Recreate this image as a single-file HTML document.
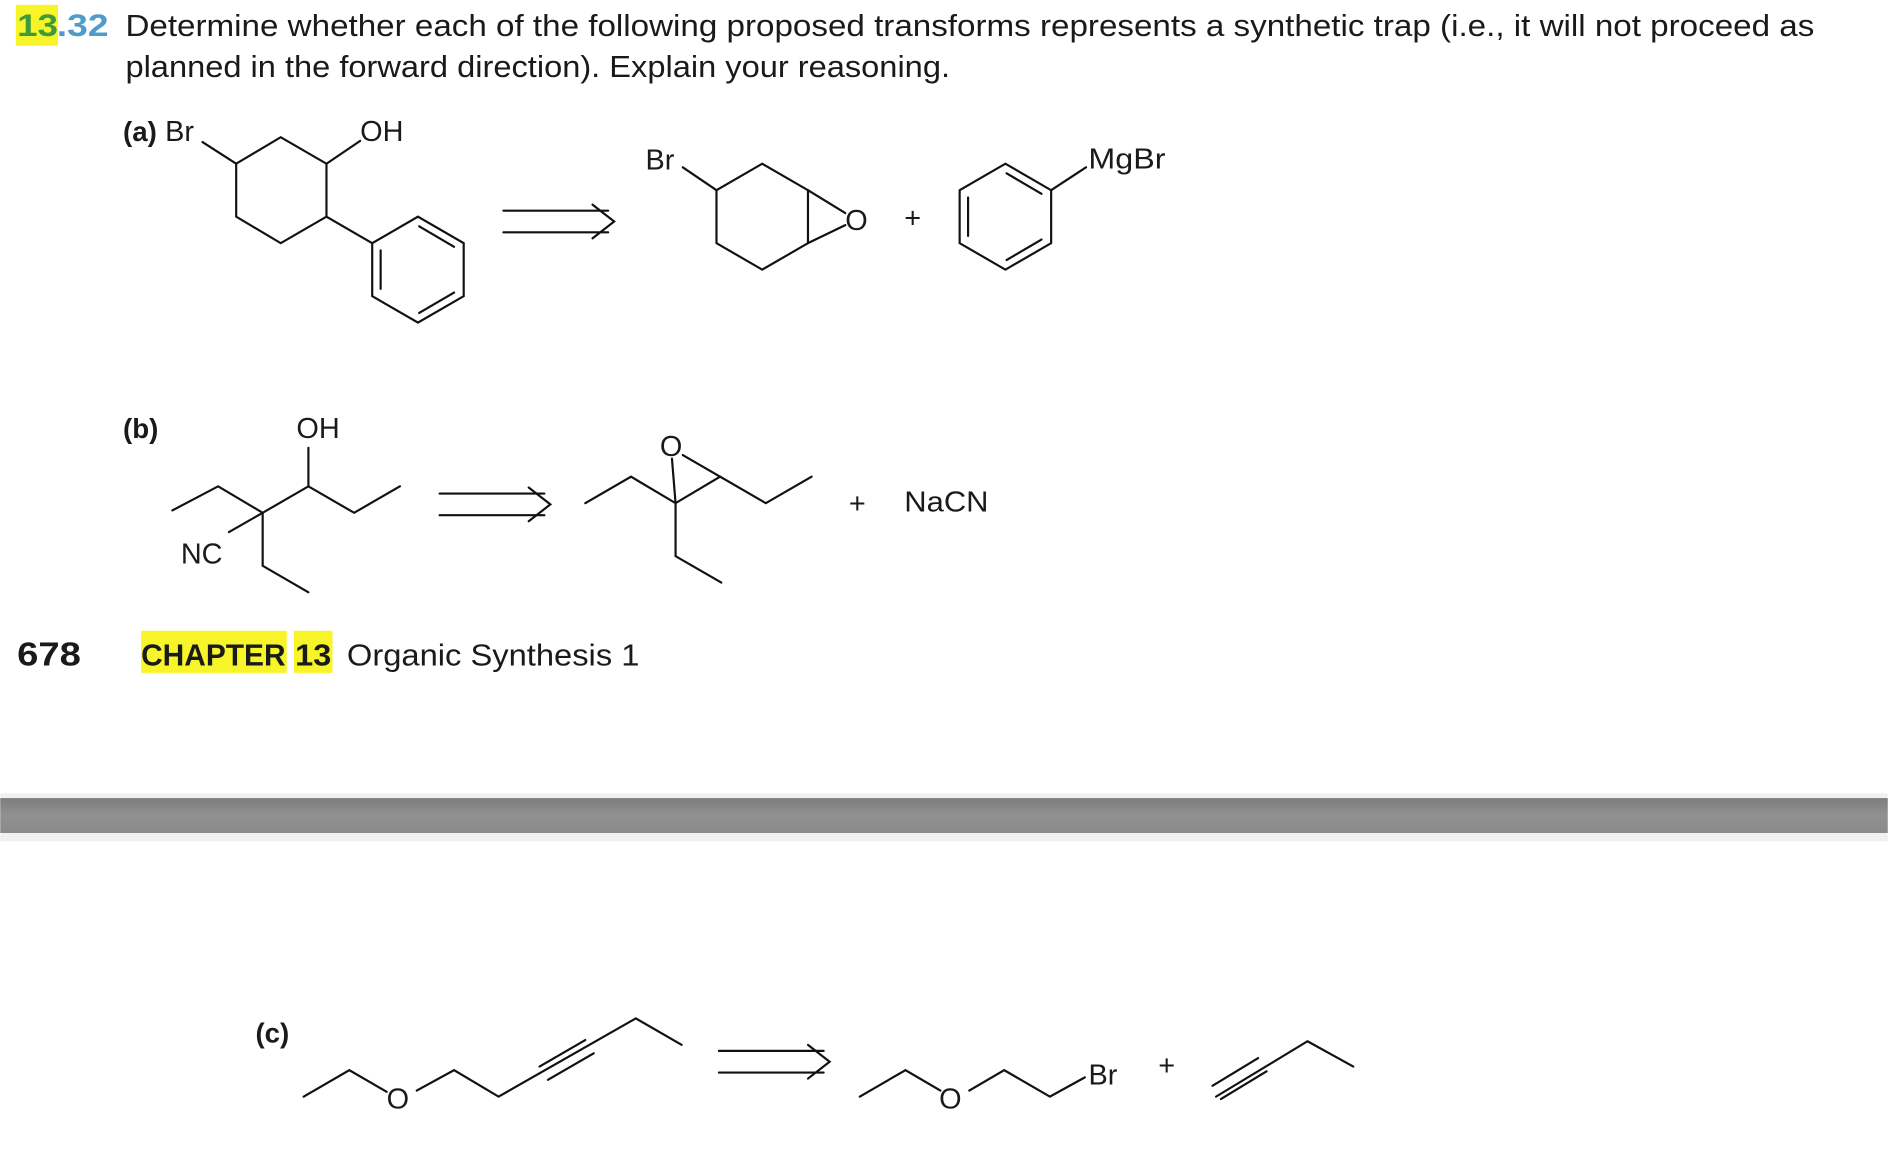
<!DOCTYPE html>
<html><head><meta charset="utf-8"><style>
html,body{margin:0;padding:0;background:#fff;}
svg{display:block;}
text{font-family:"Liberation Sans",sans-serif;fill:#1a1a1a;}
</style></head><body>
<svg width="1888" height="1152" viewBox="0 0 1568 957" xmlns="http://www.w3.org/2000/svg">
<defs><linearGradient id="g" x1="0" y1="0" x2="0" y2="1"><stop offset="0" stop-color="#7c7c7c"/><stop offset="0.5" stop-color="#919191"/><stop offset="1" stop-color="#8a8a8a"/></linearGradient></defs>
<rect x="13" y="4" width="35" height="34" fill="#f7f52a"/>
<text x="14" y="30" font-size="26" font-weight="bold" style="fill:#3f9a3a" textLength="34" lengthAdjust="spacingAndGlyphs">13</text>
<text x="47" y="30" font-size="26" font-weight="bold" style="fill:#4f9ccb" textLength="43" lengthAdjust="spacingAndGlyphs">.32</text>
<text x="104" y="30" font-size="25.5" textLength="1403" lengthAdjust="spacingAndGlyphs">Determine whether each of the following proposed transforms represents a synthetic trap (i.e., it will not proceed as</text>
<text x="104" y="64" font-size="25.5" textLength="685" lengthAdjust="spacingAndGlyphs">planned in the forward direction). Explain your reasoning.</text>

<g stroke="#111" stroke-width="1.8" fill="none" stroke-linecap="round">
<polygon points="196,136 233,114 271,136 271,180 233,202 196,180"/>
<line x1="168" y1="118" x2="196" y2="136"/>
<line x1="271" y1="136" x2="299" y2="117"/>
<line x1="271" y1="180" x2="309" y2="202"/>
<polygon points="309,202 347,180 385,202 385,246 347,268 309,246"/>
<line x1="316" y1="208" x2="316" y2="240"/>
<line x1="348" y1="188" x2="377" y2="205"/>
<line x1="348" y1="260" x2="377" y2="243"/>
<line x1="418" y1="175" x2="505" y2="175"/>
<line x1="418" y1="193" x2="505" y2="193"/>
<polyline points="492,170 510,184 492,198"/>
<polygon points="595,158 633,136 671,158 671,202 633,224 595,202"/>
<line x1="567" y1="139" x2="595" y2="158"/>
<line x1="671" y1="158" x2="702" y2="177"/>
<line x1="671" y1="202" x2="702" y2="187"/>
<polygon points="797,158 835,136 873,158 873,202 835,224 797,202"/>
<line x1="873" y1="158" x2="902" y2="139"/>
<line x1="804" y1="164" x2="804" y2="196"/>
<line x1="836" y1="144" x2="865" y2="161"/>
<line x1="836" y1="216" x2="865" y2="199"/>
<polyline points="143,424 181,404 218,426 256,404 294,426 332,404"/>
<line x1="256" y1="404" x2="256" y2="372"/>
<polyline points="218,426 218,470 256,492"/>
<line x1="218" y1="426" x2="190" y2="442"/>
<line x1="365" y1="410" x2="452" y2="410"/>
<line x1="365" y1="428" x2="452" y2="428"/>
<polyline points="439,405 457,419 439,433"/>
<polyline points="486,418 524,396 561,418 598,396 636,418 674,396"/>
<line x1="561" y1="418" x2="558" y2="381"/>
<line x1="598" y1="396" x2="567" y2="378"/>
<polyline points="561,418 561,462 599,484"/>
<polyline points="252,911 290,889 321,907"/>
<polyline points="346,906 377,889 414,911 528,846 566,868"/>
<line x1="448" y1="886" x2="486" y2="864"/>
<line x1="455" y1="897" x2="493" y2="875"/>
<line x1="597" y1="873" x2="684" y2="873"/>
<line x1="597" y1="891" x2="684" y2="891"/>
<polyline points="671,868 689,882 671,896"/>
<polyline points="714,911 752,889 781,906"/>
<polyline points="805,906 834,889 872,911 901,895"/>
<polyline points="1010,911 1086,865 1124,886"/>
<line x1="1007" y1="902" x2="1045" y2="879"/>
<line x1="1014" y1="913" x2="1052" y2="890"/>
</g>
<g font-size="24">
<text x="102" y="117" font-weight="bold" font-size="23">(a)</text>
<text x="137" y="117">Br</text>
<text x="299" y="117">OH</text>
<text x="536" y="141">Br</text>
<text x="702" y="191">O</text>
<text x="751" y="189">+</text>
<text x="904" y="140" textLength="64" lengthAdjust="spacingAndGlyphs">MgBr</text>
<text x="102" y="364" font-weight="bold" font-size="23">(b)</text>
<text x="246" y="364">OH</text>
<text x="150" y="468">NC</text>
<text x="548" y="379">O</text>
<text x="705" y="426">+</text>
<text x="751" y="425" textLength="70" lengthAdjust="spacingAndGlyphs">NaCN</text>
</g>
<text x="14" y="553" font-size="28" font-weight="bold" textLength="53" lengthAdjust="spacingAndGlyphs">678</text>
<rect x="117" y="524" width="121" height="35" fill="#f7f52a"/>
<rect x="244" y="524" width="32" height="35" fill="#f7f52a"/>
<text x="117" y="553" font-size="25" font-weight="bold" textLength="120" lengthAdjust="spacingAndGlyphs">CHAPTER</text>
<text x="245" y="553" font-size="25" font-weight="bold" textLength="30" lengthAdjust="spacingAndGlyphs">13</text>
<text x="288" y="553" font-size="25" textLength="243" lengthAdjust="spacingAndGlyphs">Organic Synthesis 1</text>
<rect x="0" y="659" width="1568" height="40" fill="#f0f0f0"/>
<rect x="0" y="663" width="1568" height="29" fill="url(#g)"/>
<g font-size="24">
<text x="212" y="866" font-weight="bold" font-size="23">(c)</text>
<text x="321" y="921">O</text>
<text x="780" y="921">O</text>
<text x="904" y="901">Br</text>
<text x="962" y="893">+</text>
</g>
</svg>
</body></html>
